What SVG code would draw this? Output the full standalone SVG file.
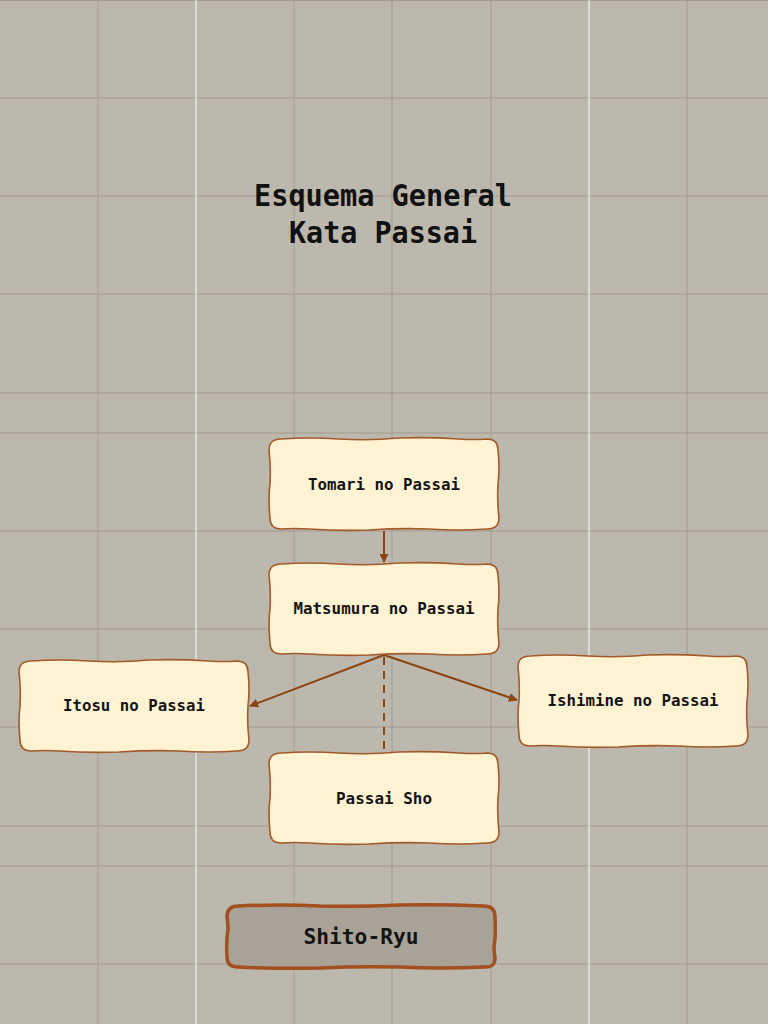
<svg xmlns="http://www.w3.org/2000/svg" width="768" height="1024" viewBox="0 0 768 1024">
<style>
.grid{stroke:#a0988a;stroke-width:0.9;fill:none}
.gridw{stroke:#f4f2ee;stroke-width:1.2;fill:none}
.box{fill:#fff3d4;stroke:#a35a2a;stroke-width:1.6}
.lbl{font-family:"DejaVu Sans Mono","Liberation Mono",monospace;font-size:16px;font-weight:bold;fill:#141414;text-anchor:middle;dominant-baseline:central}
.title{font-family:"DejaVu Sans Mono","Liberation Mono",monospace;font-size:31px;font-weight:bold;fill:#111;text-anchor:middle}
.conn{stroke:#8b4513;stroke-width:2;fill:none}
</style>
<defs>
<marker id="ah" viewBox="0 0 10 10" refX="9" refY="5" markerWidth="4.5" markerHeight="4.5" orient="auto" markerUnits="strokeWidth">
<path d="M0,0 L10,5 L0,10 Z" fill="#8b4513"/>
</marker>
<path id="wbox" d="M12,1 Q40,-1 70,1 Q100,3 130,0 Q160,-1 190,1 Q205,2 218,1 Q229,1 229,12 Q231,30 229,46 Q228,62 230,80 Q230,91 218,91 Q190,93 160,91 Q130,90 100,92 Q70,93 40,91 Q25,90 12,91 Q1,91 1,80 Q-1,60 1,46 Q2,30 0,12 Q0,1 12,1 Z"/>
</defs>
<rect width="768" height="1024" fill="#bcb8ae"/>
<g id="grid">
<path class="grid" d="M0,0.5H768M0,98H768M0,196H768M0,294H768M0,393H768M0,433H768M0,531H768M0,629H768M0,727H768M0,826H768M0,866H768M0,964H768"/>
<path class="grid" d="M98,0V1024M294,0V1024M392,0V1024M491,0V1024M687,0V1024"/>
<path class="gridw" d="M196,0V1024M589,0V1024"/>
</g>
<g id="title">
<text class="title" x="383" y="206" textLength="258" lengthAdjust="spacingAndGlyphs">Esquema General</text>
<text class="title" x="383" y="243" textLength="188" lengthAdjust="spacingAndGlyphs">Kata Passai</text>
</g>
<g id="connectors">
<path class="conn" d="M384,531V562" marker-end="url(#ah)"/>
<path class="conn" d="M384,655L250,706" marker-end="url(#ah)"/>
<path class="conn" d="M384,655L517,700" marker-end="url(#ah)"/>
<path class="conn" d="M384,657V751" stroke-dasharray="8,6"/>
</g>
<g id="tomari">
<use href="#wbox" class="box" transform="translate(269,438)"/>
<text class="lbl" x="384" y="484" textLength="152" lengthAdjust="spacingAndGlyphs">Tomari no Passai</text>
</g>
<g id="matsumura">
<use href="#wbox" class="box" transform="translate(269,563)"/>
<text class="lbl" x="384" y="608" textLength="181" lengthAdjust="spacingAndGlyphs">Matsumura no Passai</text>
</g>
<g id="itosu">
<use href="#wbox" class="box" transform="translate(19,660)"/>
<text class="lbl" x="134" y="705" textLength="142" lengthAdjust="spacingAndGlyphs">Itosu no Passai</text>
</g>
<g id="ishimine">
<use href="#wbox" class="box" transform="translate(518,655)"/>
<text class="lbl" x="633" y="700" textLength="171" lengthAdjust="spacingAndGlyphs">Ishimine no Passai</text>
</g>
<g id="passaisho">
<use href="#wbox" class="box" transform="translate(269,752)"/>
<text class="lbl" x="384" y="798" textLength="96" lengthAdjust="spacingAndGlyphs">Passai Sho</text>
</g>
<g id="shitoryu">
<path d="M238,906 Q280,904 320,906 Q360,907 400,905 Q440,904 484,906 Q495,906 495,917 Q496,936 494,946 Q494,952 495,958 Q495,968 484,967 Q440,969 400,967 Q360,966 320,968 Q280,969 238,967 Q227,967 227,957 Q226,940 228,930 Q228,923 227,917 Q227,906 238,906 Z" fill="#a9a397" stroke="#a34f1f" stroke-width="3.5"/>
<text class="lbl" x="361" y="936" style="font-size:22px" textLength="115" lengthAdjust="spacingAndGlyphs">Shito-Ryu</text>
</g>
</svg>
